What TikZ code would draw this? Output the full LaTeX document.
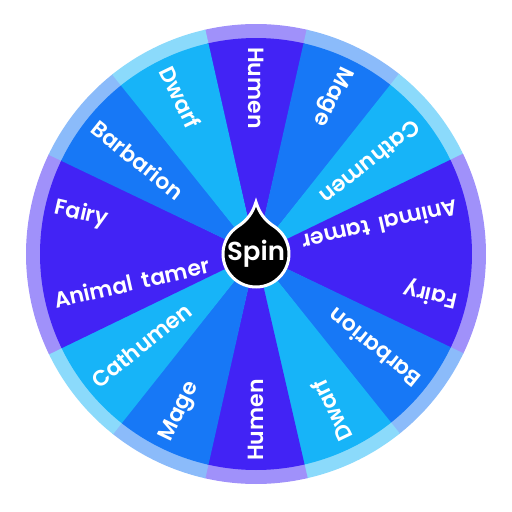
\documentclass[tikz,border=0pt]{standalone}
\usepackage{fontspec}
\setmainfont[BoldFont={* SemiBold}, WordSpace=1.8]{Poppins}
\usepackage{xcolor}
\usepackage{tikz}

\definecolor{wheelpurple}{HTML}{4223F5}
\definecolor{wheelblue}{HTML}{1778F6}
\definecolor{wheellight}{HTML}{17B4F8}

\tikzset{
    labeltext/.style={text=white, inner sep=0pt, font=\bfseries\fontsize{22}{22}\selectfont},
    spintext/.style={text=white, inner sep=0pt, font=\bfseries\fontsize{26}{26}\selectfont}
}

\begin{document}
\begin{tikzpicture}[x=1pt,y=1pt]
            \useasboundingbox (-256,-258) rectangle (256,254);

            % rim first, then the faces
            \foreach \i/\col in {0/wheelpurple, 1/wheelblue, 2/wheellight, 3/wheelpurple, 4/wheelpurple,
                5/wheelblue, 6/wheellight, 7/wheelpurple, 8/wheelblue, 9/wheellight, 10/wheelpurple,
                11/wheelpurple, 12/wheelblue, 13/wheellight}{
                \pgfmathsetmacro\mid{90-\i*360/14}
                \fill[\col!50!white] (0,0) -- (\mid-13:230) arc[start angle=\mid-13, end angle=\mid+13, radius=230] -- cycle;
            }
            \foreach \i/\col in {0/wheelpurple, 1/wheelblue, 2/wheellight, 3/wheelpurple, 4/wheelpurple,
                5/wheelblue, 6/wheellight, 7/wheelpurple, 8/wheelblue, 9/wheellight, 10/wheelpurple,
                11/wheelpurple, 12/wheelblue, 13/wheellight}{
                \pgfmathsetmacro\mid{90-\i*360/14}
                \fill[\col] (0,0) -- (\mid-13:216) arc[start angle=\mid-13, end angle=\mid+13, radius=216] -- cycle;
            }

            \foreach \i/\name in {0/Humen, 1/Mage, 2/Cathumen, 3/Animal tamer, 4/Fairy, 5/Barbarion, 6/Dwarf,
                7/Humen, 8/Mage, 9/Cathumen, 10/Animal tamer, 11/Fairy, 12/Barbarion, 13/Dwarf}{
                \pgfmathsetmacro\mid{90-\i*360/14}
                \node[labeltext, anchor=west, rotate=\mid+180] (lbl\i) at (\mid:207) {\name};
            }

            % the spin button
            \draw[fill=black, draw=white, line width=3] (0,52) .. controls (-3,42) and (-8,34) .. (125:33)
                arc[start angle=125, end angle=415, radius=33] .. controls (8,34) and (3,42) .. cycle;
            \node[spintext] (spin) at (0,0) {Spin};
        \end{tikzpicture}
\end{document}
